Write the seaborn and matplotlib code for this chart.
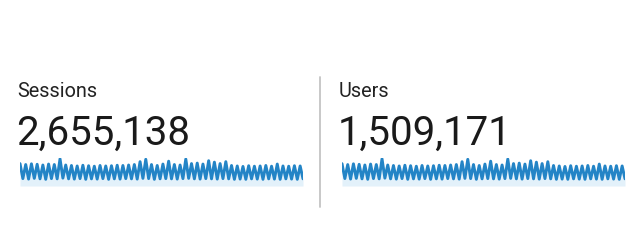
import matplotlib
matplotlib.use("Agg")
import matplotlib.pyplot as plt
import seaborn as sns
import numpy as np
import pandas as pd

# ---------------- data ----------------
titles = ["Sessions", "Users"]
totals = ["2,655,138", "1,509,171"]

# sparkline values (alternating weekday highs / weekend lows), in thousands
sessions = [
    9.4, 3.1, 9.0, 2.9, 9.3, 3.2, 9.1, 3.0, 8.8, 2.8, 9.2, 3.1, 9.0, 3.0, 11.4, 3.3,
    8.8, 3.0, 8.6, 2.9, 8.4, 3.1, 8.7, 2.8, 8.5, 3.0, 8.3, 2.9, 8.6, 3.1, 8.4, 2.8,
    8.5, 3.0, 8.7, 2.9, 8.6, 3.1, 8.8, 3.0, 9.0, 2.9, 10.2, 3.2, 11.2, 3.1, 9.0, 2.8,
    8.6, 3.0, 9.2, 3.1, 10.4, 3.0, 9.0, 2.9, 8.8, 3.1, 11.3, 3.2, 9.4, 3.0, 9.6, 2.9,
    9.2, 3.1, 10.6, 3.0, 10.0, 2.9, 9.4, 3.1, 10.2, 3.0, 8.6, 2.8, 8.4, 2.9, 8.2, 2.8,
    8.5, 3.0, 8.3, 2.9, 8.4, 2.8, 8.6, 3.0, 8.3, 2.9, 9.2, 2.8, 8.4, 3.0, 8.3, 2.9,
    8.5, 2.8, 8.4, 3.0,
]
users = [
    5.35, 1.78, 5.12, 1.66, 5.30, 1.82, 5.18, 1.71, 5.02, 1.60, 5.24, 1.77, 5.13, 1.71, 6.50, 1.88,
    5.02, 1.71, 4.90, 1.65, 4.79, 1.77, 4.96, 1.60, 4.85, 1.71, 4.73, 1.65, 4.90, 1.77, 4.79, 1.60,
    4.85, 1.71, 4.96, 1.65, 4.90, 1.77, 5.02, 1.71, 5.13, 1.65, 5.81, 1.82, 6.38, 1.77, 5.13, 1.60,
    4.90, 1.71, 5.24, 1.77, 5.93, 1.71, 5.13, 1.65, 5.02, 1.77, 6.44, 1.82, 5.36, 1.71, 5.47, 1.65,
    5.24, 1.77, 6.04, 1.71, 5.70, 1.65, 5.36, 1.77, 5.81, 1.71, 4.90, 1.60, 4.79, 1.65, 4.67, 1.60,
    4.85, 1.71, 4.73, 1.65, 4.79, 1.60, 4.90, 1.71, 4.73, 1.65, 5.24, 1.60, 4.79, 1.71, 4.73, 1.65,
    4.85, 1.60, 4.79, 1.71,
]
series = [sessions, users]

# ---------------- style ----------------
sns.set_style("white")
plt.rcParams["font.family"] = ["Roboto", "DejaVu Sans"]

W, H = 640, 241
fig = plt.figure(figsize=(W / 100, H / 100), dpi=100)

line_color = "#2384c6"
fill_color = "#e3f1fa"

panel_x = [20, 342]
text_x = [17, 339]

for i in range(2):
    vals = series[i]
    df = pd.DataFrame({"t": np.arange(len(vals)), "v": vals})
    ax = fig.add_axes([panel_x[i] / W, 1 - 186 / H, 283 / W, 28 / H])
    ax.fill_between(df["t"], df["v"], 0, color=fill_color, linewidth=0)
    sns.lineplot(data=df, x="t", y="v", ax=ax, color=line_color, linewidth=2.1)
    ax.set_xlim(0, len(vals) - 1)
    ax.set_ylim(0, max(vals) * 1.03)
    ax.axis("off")

    fig.text(text_x[i] / W, 1 - 97 / H, titles[i], fontsize=14.3, color="#222222",
             ha="left", va="baseline")
    fig.text(text_x[i] / W - 1 / W, 1 - 145 / H, totals[i], fontsize=29, color="#1a1a1a",
             ha="left", va="baseline")

# divider
fig.add_artist(plt.Line2D([319.5 / W, 319.5 / W], [1 - 77 / H, 1 - 207 / H],
                          color="#c4c4c4", linewidth=1.3))

fig.savefig("out.png", dpi=100, facecolor="white")
